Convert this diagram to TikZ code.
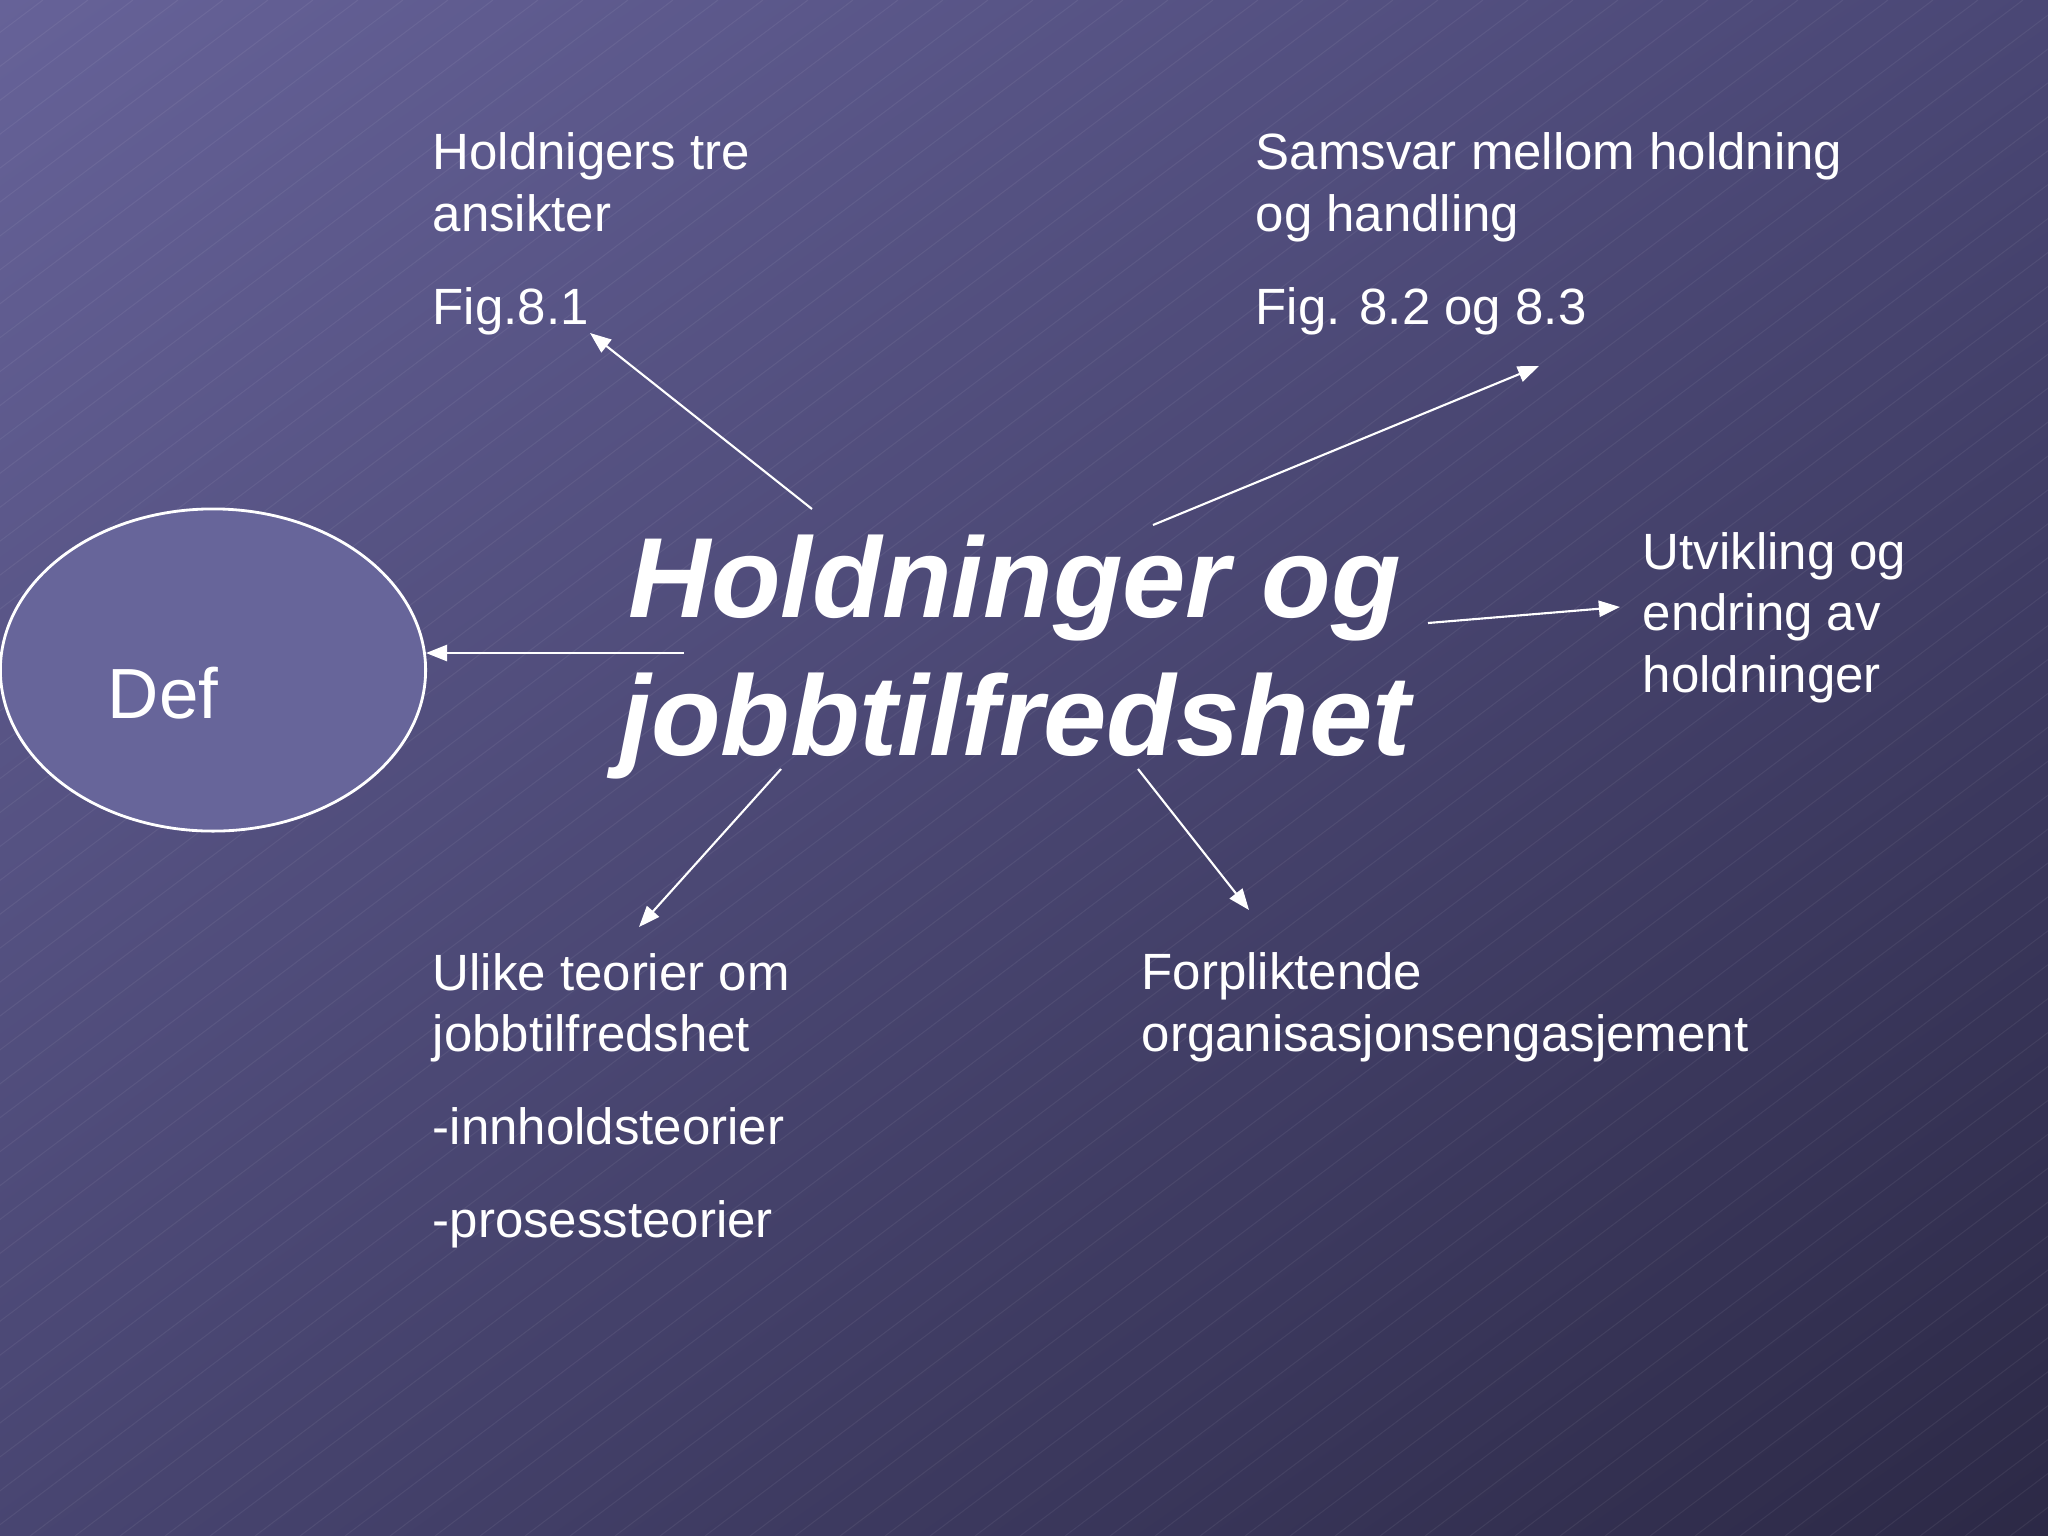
\documentclass[tikz,border=0pt]{standalone}
\usepackage{fontspec}
\setmainfont{Liberation Sans}
\usetikzlibrary{arrows.meta,shapes.geometric,shadings}

\definecolor{bgul}{RGB}{102,98,152}
\definecolor{bgur}{RGB}{74,71,117}
\definecolor{bgll}{RGB}{72,69,113}
\definecolor{bglr}{RGB}{44,41,70}
\definecolor{deffill}{RGB}{103,101,154}

\tikzset{
  txt/.style={anchor=base west, align=left, inner sep=0pt, text=white,
    font=\fontsize{14.5}{17.4}\selectfont},
  pil/.style={draw=white, line width=0.6pt, -{Triangle[length=6pt,width=4.6pt]}},
}

\begin{document}
\begin{tikzpicture}[x=0.01cm,y=-0.01cm]
\useasboundingbox (0,0) rectangle (2048,1536);
% background
\shade[upper left=bgul, upper right=bgur, lower left=bgll, lower right=bglr]
  (0,0) rectangle (2048,1536);
\begin{scope}
\clip (0,0) rectangle (2048,1536);
\foreach \i in {-2040,-1995,...,2048}
  \draw[white, opacity=0.06, line width=0.3pt] (\i,1536) -- ++(2038,-1536);
\end{scope}

% middle
\node[ellipse, draw=white, line width=0.8pt, fill=deffill, minimum width=4.25cm,
  minimum height=3.22cm] (def) at (213,670) {};
\node[anchor=base, text=white, font=\fontsize{20.2}{25}\selectfont] (deftxt) at (163,718) {Def};
\node[anchor=base, align=center, inner sep=0pt, text=white,
  font=\fontsize{32.4}{39}\selectfont\bfseries\itshape] (title) at (1015,755)
  {Holdninger og\\jobbtilfredshet};

% texts round it (base = last line)
\node[txt] (ansikt) at (432,324) {Holdnigers tre\\ansikter\\[9pt]Fig.8.1};
\node[txt] (samsvar) at (1255,324) {Samsvar mellom holdning\\og handling\\[9pt]Fig. 8.2 og 8.3};
\node[txt] (utvikl) at (1642,692) {Utvikling og\\endring av\\holdninger};
\node[txt] (teori) at (432,1237) {Ulike teorier om\\jobbtilfredshet\\[9pt]-innholdsteorier\\[9pt]-prosessteorier};
\node[txt] (forpl) at (1141,1051) {Forpliktende\\organisasjonsengasjement};

% arrows
\coordinate (a1) at (812,509);  \coordinate (b1) at (590,333);
\coordinate (a2) at (1153,525); \coordinate (b2) at (1539,366);
\coordinate (a3) at (1428,623); \coordinate (b3) at (1620,607);
\coordinate (a4) at (684,653);  \coordinate (b4) at (426,653);
\coordinate (a5) at (781,769);  \coordinate (b5) at (639,927);
\coordinate (a6) at (1138,769); \coordinate (b6) at (1249,910);
\foreach \n in {1,...,6}
  \draw[pil] (a\n) -- (b\n);
\end{tikzpicture}
\end{document}
